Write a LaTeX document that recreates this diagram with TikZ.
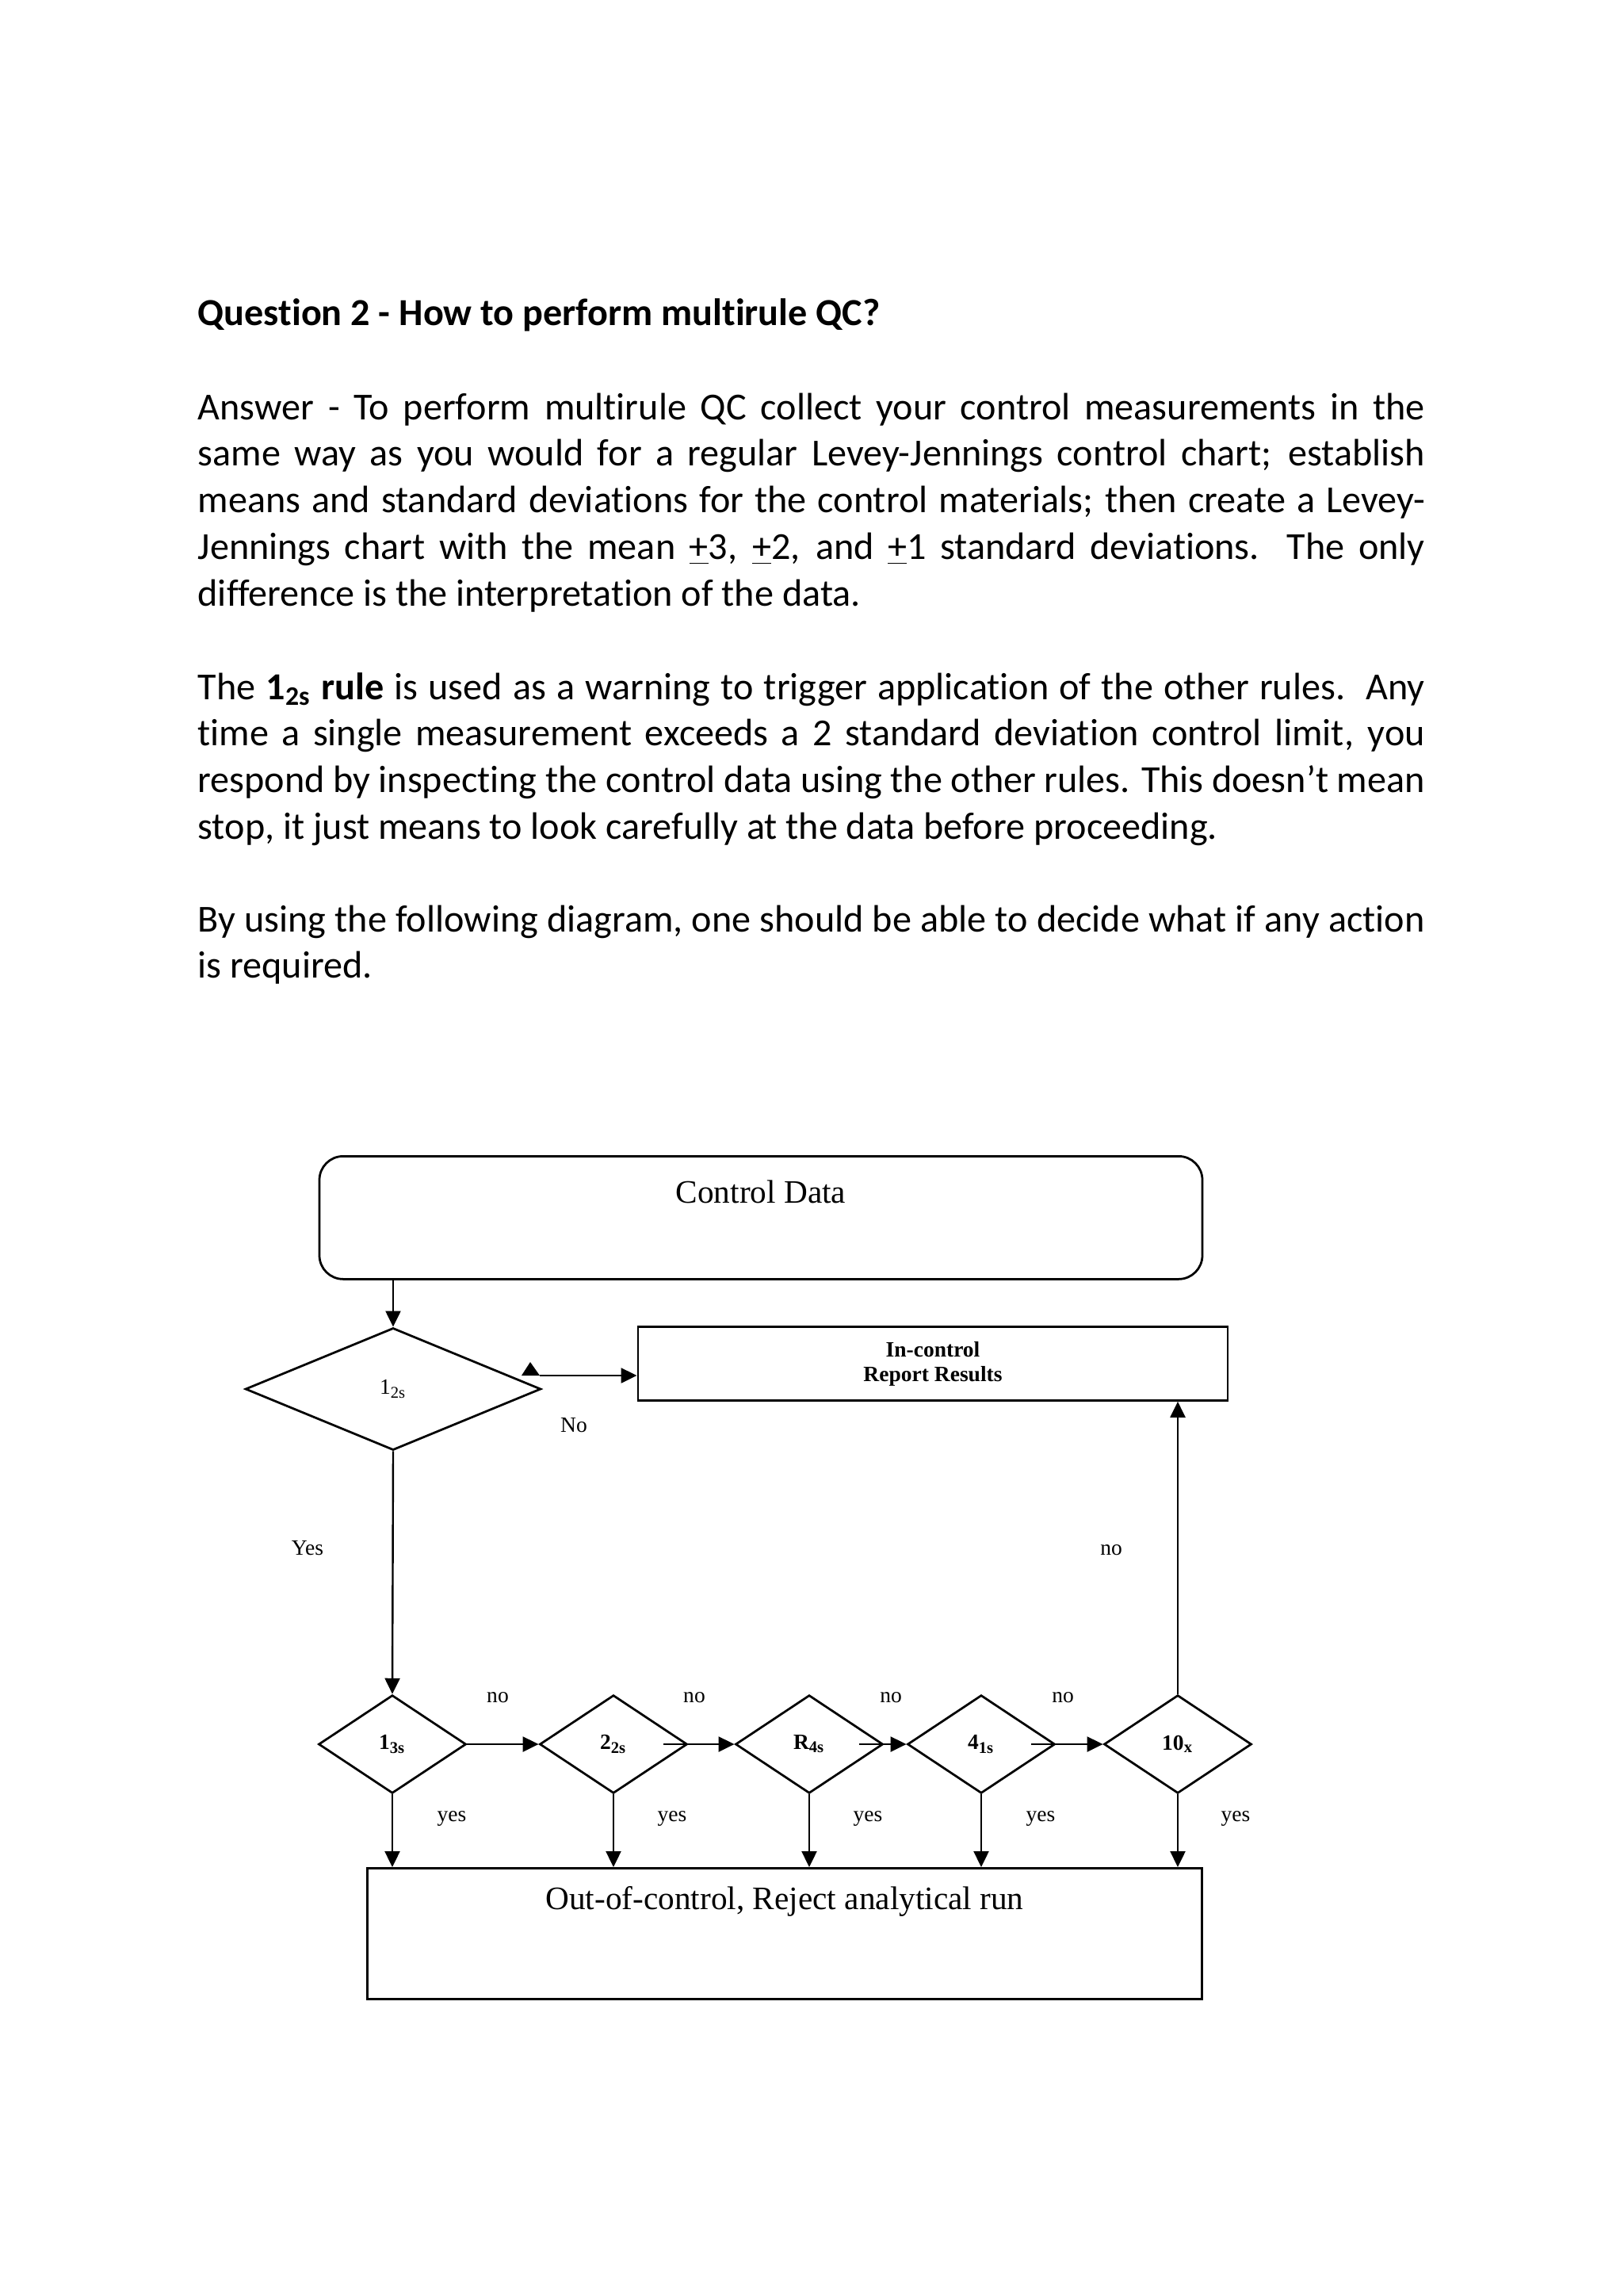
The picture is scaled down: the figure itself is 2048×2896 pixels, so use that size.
\documentclass[tikz,border=0pt]{standalone}
\usepackage{fontspec}
\setmainfont[Ligatures=NoCommon]{Carlito}
\newfontfamily\timesfont{Liberation Serif}
\usepackage{tikz}
\usetikzlibrary{arrows.meta, shapes.geometric, positioning, calc}
\tolerance=10000
\hyphenpenalty=10000

\begin{document}
\begin{tikzpicture}
  [x=0.290662pt,y=-0.290662pt,
   every node/.style={inner sep=0pt},
   para/.style={anchor=base west,text width=450pt,align=justify,
     font=\fontsize{14pt}{17.1pt}\selectfont},
   box/.style={draw,line width=0.8pt,font=\timesfont\fontsize{12pt}{14pt}\selectfont},
   rule/.style={diamond,draw,line width=0.8pt,minimum width=54.1pt,minimum height=36pt,
     font=\timesfont\bfseries\footnotesize},
   lbl/.style={font=\timesfont\footnotesize},
   arr/.style={-{Triangle[length=5.8pt,width=5.5pt]},line width=0.7pt}]
  \useasboundingbox[fill=white] (0,0) rectangle (2048,2896);

  % text above the chart
  \node (title) [anchor=base west,font=\fontsize{14pt}{17.1pt}\selectfont\bfseries]
    at (249,410) {Question 2 - How to perform multirule QC?};
  \node (answer) [para] at (249,529) {Answer - To perform multirule QC collect your control
    measurements in the\linebreak same way as you would for a regular Levey-Jennings control
    chart; establish\linebreak means and standard deviations for the control materials; then
    create a Levey-\linebreak Jennings chart with the mean \underline{+}3, \underline{+}2, and
    \underline{+}1 standard deviations.\ \ The only\linebreak difference is the interpretation
    of the data.};
  \node (rule12s) [para] at (249,882) {The \textbf{1\textsubscript{2s} rule} is used as a
    warning to trigger application of the other rules.\ \ Any\linebreak time a single
    measurement exceeds a 2 standard deviation control limit, you\linebreak respond by
    inspecting the control data using the other rules. This doesn’t mean\linebreak stop, it
    just means to look carefully at the data before proceeding.};
  \node (usage) [para] at (249,1175) {By using the following diagram, one should be able to
    decide what if any action\linebreak is required.};

  % boxes
  \node (cdata) [box,rounded corners=8.7pt,anchor=north,minimum width=323.8pt,
    text height=17.15pt,text depth=27.9pt] at (960,1457) {Control Data};
  \node (inctl) [box,minimum width=216.3pt,minimum height=27pt,align=center,
    font=\timesfont\bfseries\fontsize{8pt}{9pt}\selectfont] at (1177,1720)
    {In-control\\Report Results};
  \node (outctl) [box,anchor=north,minimum width=306.1pt,
    text height=15.1pt,text depth=32.8pt] at (990,2355) {Out-of-control, Reject analytical run};

  % rules
  \node (d12) [rule,minimum width=108.4pt,minimum height=44.8pt,font=\timesfont\footnotesize]
    at (496,1752) {1\textsubscript{2s}};
  \node (d13) [rule] at (495,2200)  {1\textsubscript{3s}};
  \node (d22) [rule] at (774,2200)  {2\textsubscript{2s}};
  \node (dR4) [rule] at (1021,2200) {R\textsubscript{4s}};
  \node (d41) [rule] at (1238,2200) {4\textsubscript{1s}};
  \node (d10) [rule] at (1486,2200) {10\textsubscript{x}};

  % labels
  \node (lyes) [lbl] at (388,1953) {Yes};
  \node (lno)  [lbl] at (724,1798) {No};
  \node (lno2) [lbl] at (1402,1955) {no};
  \foreach \x [count=\i] in {628,876,1124,1341}
    \node (no\i) [lbl] at (\x,2141) {no};
  \foreach \x [count=\i] in {570,848,1095,1313,1559}
    \node (yes\i) [lbl] at (\x,2294) {yes};

  % connectors
  \coordinate (noStart) at (681,1735);
  \fill (noStart) -- ++(-23,0) -- ++(11,-17) -- cycle;
  \draw[arr] (noStart) -- (inctl.west |- noStart);
  \draw[arr] (d12 |- cdata.south) -- (d12.north);
  \draw[arr] (d12.south) -- (d13.north);
  \draw[arr] (d13.east) -- (d22.west);
  \foreach \src/\dst in {d22/dR4,dR4/d41,d41/d10}
    \draw[arr] ([shift={(-31,0)}]\src.east) -- (\dst.west);
  \draw[arr] (d10.north) -- (d10 |- inctl.south);
  \foreach \src in {d13,d22,dR4,d41,d10}
    \draw[arr] (\src.south) -- (\src |- outctl.north);

\end{tikzpicture}
\end{document}
